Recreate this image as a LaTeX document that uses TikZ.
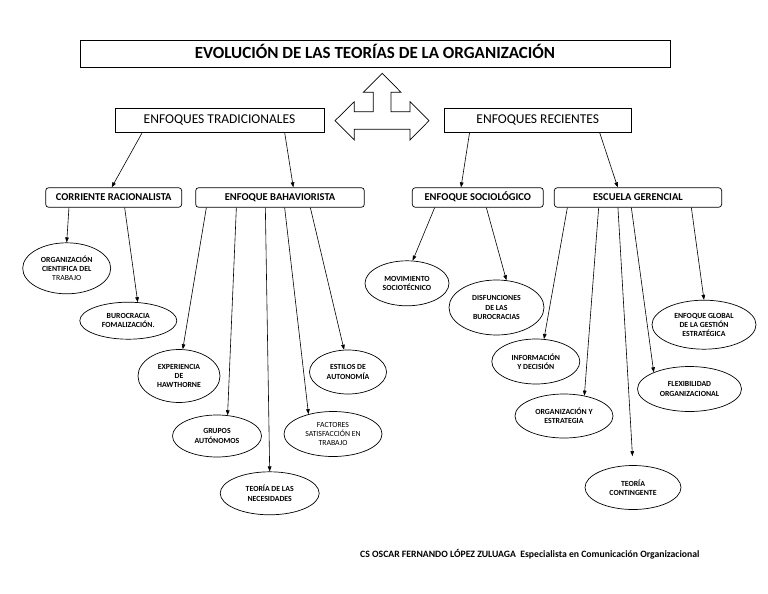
\documentclass[tikz,border=0pt]{standalone}
\usepackage{fontspec}
\setmainfont{Carlito}
\usepackage{tikz}
\usetikzlibrary{arrows.meta, shapes.geometric}

\tikzset{
  titlebox/.style={draw, line width=0.7pt, inner sep=0pt, text height=12pt, text depth=3pt, font=\fontsize{17}{20}\selectfont\bfseries},
  groupbox/.style={draw, line width=0.7pt, inner sep=0pt, text height=9.5pt, text depth=2.5pt, font=\fontsize{13.5}{16}\selectfont},
  branchbox/.style={draw, rounded corners=3pt, line width=0.7pt, inner sep=0pt, minimum height=19.6pt, text height=7.2pt, text depth=1.8pt, font=\fontsize{10.5}{12}\selectfont\bfseries},
  idea/.style={draw, ellipse, line width=0.7pt, inner sep=0pt, align=center, font=\fontsize{7.8}{9.2}\selectfont\bfseries},
  link/.style={-{Triangle[length=5pt,width=3.6pt]}, line width=0.6pt}
}

\begin{document}
\begin{tikzpicture}[x=1pt, y=-1pt]
  \useasboundingbox (0,0) rectangle (768,594);

  % Draw the title box
  \node[titlebox, minimum width=590pt, minimum height=27pt] (title) at (375,53.7) {EVOLUCIÓN DE LAS TEORÍAS DE LA ORGANIZACIÓN};

  % Draw the three-way arrow between the two groups
  \draw[line width=0.7pt] (382.3,73.3) -- (401,92.3) -- (391,92.3) -- (391,111.7) -- (410,111.7) -- (410,101.7)
    -- (429,120.7) -- (410,140) -- (410,129.3) -- (354.3,129.3) -- (354.3,140) -- (335,120.7)
    -- (354.3,101.7) -- (354.3,111.7) -- (373.3,111.7) -- (373.3,92.3) -- (363.3,92.3) -- cycle;

  % Draw the two groups
  \node[groupbox, minimum width=209pt, minimum height=23.7pt] (trad) at (219.5,120.2) {ENFOQUES TRADICIONALES};
  \node[groupbox, minimum width=187.7pt, minimum height=23.7pt] (rec) at (537.8,120.2) {ENFOQUES RECIENTES};

  % Draw the four branches
  \node[branchbox, minimum width=136pt] (racional) at (113.7,197.5) {CORRIENTE RACIONALISTA};
  \node[branchbox, minimum width=168.6pt] (bahav) at (280,197.5) {ENFOQUE BAHAVIORISTA};
  \node[branchbox, minimum width=131pt] (socio) at (477.8,197.5) {ENFOQUE SOCIOLÓGICO};
  \node[branchbox, minimum width=167.4pt] (gerencial) at (638,197.5) {ESCUELA GERENCIAL};

  % Draw arrows from the groups to the branches
  \draw[link] ([xshift=27.7pt]trad.south west) -- ([xshift=-2pt]racional.north);
  \draw[link] ([xshift=170pt]trad.south west) -- ([xshift=13.3pt]bahav.north);
  \draw[link] ([xshift=26pt]rec.south west) -- ([xshift=-16.8pt]socio.north);
  \draw[link] ([xshift=156pt]rec.south west) -- ([xshift=-20.3pt]gerencial.north);

  % Draw the ideas of the traditional approaches
  \node[idea, minimum width=88pt, minimum height=51pt] (cientifica) at (66.7,268.3) {ORGANIZACIÓN\\CIENTIFICA DEL\\{\mdseries TRABAJO}};
  \node[idea, minimum width=97pt, minimum height=37pt] (burocracia) at (128.3,320.7) {BUROCRACIA\\FOMALIZACIÓN.};
  \node[idea, minimum width=82pt, minimum height=53pt] (hawthorne) at (179,376) {EXPERIENCIA\\DE\\HAWTHORNE};
  \node[idea, minimum width=89pt, minimum height=42pt] (grupos) at (217,436) {GRUPOS\\AUTÓNOMOS};
  \node[idea, minimum width=99pt, minimum height=43pt] (necesidades) at (269.7,493.3) {TEORÍA DE LAS\\NECESIDADES};
  \node[idea, minimum width=98pt, minimum height=45pt, font=\fontsize{7.8}{9.2}\selectfont] (factores) at (333,434) {FACTORES\\SATISFACCIÓN EN\\TRABAJO};
  \node[idea, minimum width=77pt, minimum height=44pt] (estilos) at (348,372) {ESTILOS DE\\AUTONOMÍA};

  % Draw the ideas of the recent approaches
  \node[idea, minimum width=84pt, minimum height=45pt] (sociotec) at (407,283.3) {MOVIMIENTO\\SOCIOTÉCNICO};
  \node[idea, minimum width=95pt, minimum height=55pt] (disfun) at (496.5,307.5) {DISFUNCIONES\\DE LAS\\BUROCRACIAS};
  \node[idea, minimum width=88pt, minimum height=45pt] (decision) at (535.8,361.5) {INFORMACIÓN\\Y DECISIÓN};
  \node[idea, minimum width=98pt, minimum height=44pt] (estrategia) at (564,416) {ORGANIZACIÓN Y\\ESTRATEGIA};
  \node[idea, minimum width=96pt, minimum height=44pt] (contingente) at (633,487.5) {TEORÍA\\CONTINGENTE};
  \node[idea, minimum width=104pt, minimum height=45pt] (flexible) at (689.5,389) {FLEXIBILIDAD\\ORGANIZACIONAL};
  \node[idea, minimum width=104pt, minimum height=49pt] (global) at (704,324.7) {ENFOQUE GLOBAL\\DE LA GESTIÓN\\ESTRATÉGICA};

  % Draw arrows from the branches to the ideas
  \draw[link] ([xshift=23.6pt]racional.south west) -- (cientifica.north);
  \draw[link] ([xshift=79.3pt]racional.south west) -- (burocracia.63);
  \draw[link] ([xshift=11pt]bahav.south west) -- (hawthorne.82);
  \draw[link] ([xshift=41pt]bahav.south west) -- (grupos.63);
  \draw[link] ([xshift=70pt]bahav.south west) -- (necesidades.north);
  \draw[link] ([xshift=89.3pt]bahav.south west) -- (factores.141);
  \draw[link] ([xshift=115pt]bahav.south west) -- (estilos.100);
  \draw[link] ([xshift=22.7pt]socio.south west) -- (sociotec.76);
  \draw[link] ([xshift=74.4pt]socio.south west) -- (disfun.70);
  \draw[link] ([xshift=13.4pt]gerencial.south west) -- (decision.70);
  \draw[link] ([xshift=44.7pt]gerencial.south west) -- (estrategia.45);
  \draw[link, shorten >=9pt] ([xshift=64pt]gerencial.south west) -- (contingente.north);
  \draw[link] ([xshift=77.4pt]gerencial.south west) -- (flexible.155);
  \draw[link] ([xshift=137.4pt]gerencial.south west) -- (global.north);

  % Draw the footer
  \node[anchor=west, inner sep=0pt, font=\fontsize{9.7}{11}\selectfont\bfseries] (autor) at (360,554.3) {CS OSCAR FERNANDO LÓPEZ ZULUAGA\ \ Especialista en Comunicación Organizacional};

\end{tikzpicture}
\end{document}
